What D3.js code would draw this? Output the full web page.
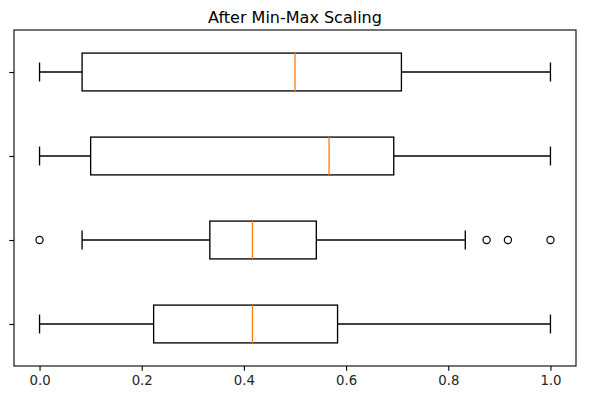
<!DOCTYPE html>
<html>
<head>
<meta charset="utf-8">
<script src="https://cdn.jsdelivr.net/npm/d3@7"></script>
<style>
  body { margin: 0; background: #fff; }
  text { font-family: "DejaVu Sans", sans-serif; }
</style>
</head>
<body>
<div id="chart"></div>
<script>
// box statistics, bottom (position 1) to top (position 4)
const positions = [1, 2, 3, 4];
const whiskerLow = [0.0, 0.0833, 0.0, 0.0];
const q1 = [0.2233, 0.3333, 0.1, 0.0833];
const median = [0.4167, 0.4167, 0.5667, 0.5];
const q3 = [0.5833, 0.5417, 0.6933, 0.7083];
const whiskerHigh = [1.0, 0.8333, 1.0, 1.0];
const fliers = [[], [0.0, 0.875, 0.9167, 1.0], [], []];
const xTicks = [0.0, 0.2, 0.4, 0.6, 0.8, 1.0];

const W = 592, H = 396;
const margin = {left: 14, right: 16, top: 30, bottom: 30};

let svg = d3.select("#chart").append("svg").attr("width", W).attr("height", H);

let x = d3.scaleLinear().domain([-0.05, 1.05]).range([margin.left, W - margin.right]);
let y = d3.scaleLinear().domain([0.5, 4.5]).range([H - margin.bottom, margin.top]);

const boxHalf = Math.abs(y(0.225) - y(0));
const capHalf = Math.abs(y(0.1125) - y(0));
const lw = 1.33;

let plot = svg.append("g");

positions.forEach(function (p, i) {
  let cy = y(p);
  // whiskers
  plot.append("line").attr("x1", x(whiskerLow[i])).attr("x2", x(q1[i]))
    .attr("y1", cy).attr("y2", cy).attr("stroke", "black").attr("stroke-width", lw);
  plot.append("line").attr("x1", x(q3[i])).attr("x2", x(whiskerHigh[i]))
    .attr("y1", cy).attr("y2", cy).attr("stroke", "black").attr("stroke-width", lw);
  // caps
  [whiskerLow[i], whiskerHigh[i]].forEach(function (v) {
    plot.append("line").attr("x1", x(v)).attr("x2", x(v))
      .attr("y1", cy - capHalf).attr("y2", cy + capHalf)
      .attr("stroke", "black").attr("stroke-width", lw);
  });
  // box
  plot.append("rect").attr("x", x(q1[i])).attr("y", cy - boxHalf)
    .attr("width", x(q3[i]) - x(q1[i])).attr("height", 2 * boxHalf)
    .attr("fill", "none").attr("stroke", "black").attr("stroke-width", lw);
  // median
  plot.append("line").attr("x1", x(median[i])).attr("x2", x(median[i]))
    .attr("y1", cy - boxHalf).attr("y2", cy + boxHalf)
    .attr("stroke", "#ff7f0e").attr("stroke-width", lw);
  // outliers
  fliers[i].forEach(function (v) {
    plot.append("circle").attr("cx", x(v)).attr("cy", cy).attr("r", 3.6)
      .attr("fill", "none").attr("stroke", "black").attr("stroke-width", 1.2);
  });
});

// axes
let xAxis = d3.axisBottom(x).tickValues(xTicks).tickFormat(d3.format(".1f"))
  .tickSize(4.7).tickPadding(4.7);
let gx = svg.append("g").attr("transform", "translate(0," + (H - margin.bottom) + ")").call(xAxis);
gx.select(".domain").remove();
gx.selectAll("line").attr("stroke", "black").attr("stroke-width", 1.1);
gx.selectAll("text").attr("font-size", "13.3px").attr("fill", "#262626")
  .attr("font-family", "DejaVu Sans");

let yAxis = d3.axisLeft(y).tickValues(positions).tickFormat("").tickSize(4.7);
let gy = svg.append("g").attr("transform", "translate(" + margin.left + ",0)").call(yAxis);
gy.select(".domain").remove();
gy.selectAll("line").attr("stroke", "black").attr("stroke-width", 1.1);

// frame
svg.append("rect").attr("x", margin.left).attr("y", margin.top)
  .attr("width", W - margin.left - margin.right).attr("height", H - margin.top - margin.bottom)
  .attr("fill", "none").attr("stroke", "black").attr("stroke-width", 1.1);

svg.append("text").attr("x", (margin.left + W - margin.right) / 2).attr("y", margin.top - 7)
  .attr("text-anchor", "middle").attr("font-size", "16px").text("After Min-Max Scaling");
</script>
</body>
</html>
